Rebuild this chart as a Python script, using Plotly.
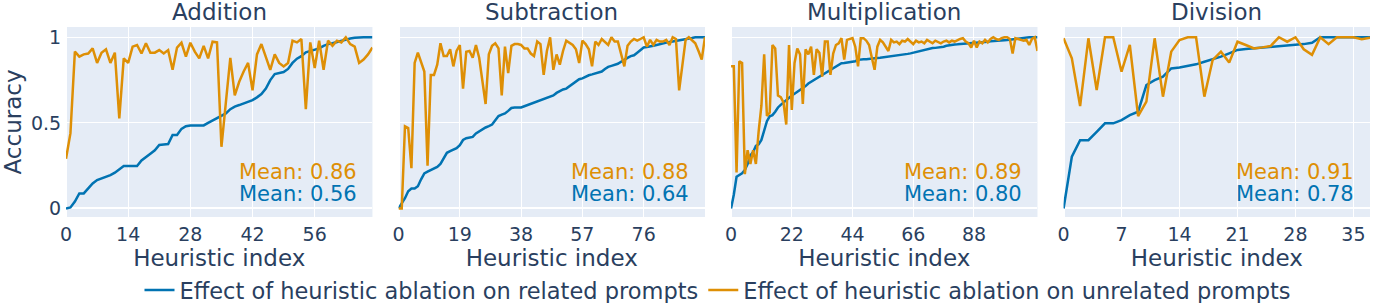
import plotly.graph_objects as go
from plotly.subplots import make_subplots

titles = ["Addition", "Subtraction", "Multiplication", "Division"]

add_related = [0.0, 0.006, 0.04, 0.088, 0.088, 0.12, 0.146, 0.166, 0.175, 0.185,
               0.195, 0.209, 0.23, 0.248, 0.248, 0.248, 0.248, 0.28, 0.302, 0.32,
               0.34, 0.371, 0.374, 0.376, 0.429, 0.429, 0.465, 0.48, 0.485, 0.485,
               0.485, 0.485, 0.5, 0.515, 0.53, 0.545, 0.555, 0.58, 0.595, 0.604,
               0.615, 0.625, 0.633, 0.649, 0.668, 0.70, 0.75, 0.785, 0.793, 0.797,
               0.815, 0.85, 0.875, 0.89, 0.912, 0.92, 0.925, 0.935, 0.95, 0.96,
               0.965, 0.972, 0.98, 0.988, 0.993, 0.997, 1.0, 1.0, 1.0, 1.0]
add_unrelated = [0.29, 0.44, 0.916, 0.887, 0.90, 0.905, 0.935, 0.85, 0.91, 0.93,
                 0.85, 0.91, 0.526, 0.877, 0.85, 0.945, 0.955, 0.905, 0.965, 0.91,
                 0.91, 0.925, 0.905, 0.925, 0.81, 0.94, 0.968, 0.887, 0.968, 0.916,
                 0.877, 0.95, 0.877, 0.974, 0.97, 0.36, 0.62, 0.88, 0.66, 0.74,
                 0.8, 0.85, 0.69, 0.9, 0.96, 0.88, 0.81, 0.9, 0.85, 0.83,
                 0.85, 0.98, 0.97, 0.99, 0.58, 0.97, 0.82, 0.98, 0.81, 0.98,
                 0.95, 0.98, 0.97, 1.0, 0.96, 0.945, 0.85, 0.87, 0.9, 0.94]

sub_related = [0.0, 0.03, 0.06, 0.1, 0.116, 0.116, 0.13, 0.17, 0.205, 0.215,
               0.225, 0.235, 0.243, 0.26, 0.29, 0.325, 0.335, 0.343, 0.352, 0.37,
               0.40, 0.41, 0.415, 0.418, 0.438, 0.45, 0.465, 0.473, 0.481, 0.49,
               0.515, 0.54, 0.548, 0.555, 0.57, 0.587, 0.59, 0.59, 0.59, 0.597,
               0.604, 0.612, 0.62, 0.628, 0.635, 0.638, 0.645, 0.652, 0.66, 0.675,
               0.687, 0.695, 0.70, 0.715, 0.73, 0.74, 0.755, 0.76, 0.77, 0.778,
               0.783, 0.788, 0.792, 0.80, 0.815, 0.827, 0.833, 0.84, 0.845, 0.857,
               0.87, 0.88, 0.89, 0.895, 0.91, 0.925, 0.94, 0.943, 0.945, 0.95,
               0.955, 0.96, 0.964, 0.968, 0.973, 0.975, 0.978, 0.98, 0.984, 0.988,
               0.993, 0.996, 1.0, 1.0, 1.0, 1.0]
sub_unrelated = [0.0, 0.0, 0.48, 0.47, 0.235, 0.85, 0.91, 0.86, 0.80, 0.25,
                 0.78, 0.78, 0.84, 0.965, 0.89, 0.89, 0.93, 0.83, 0.92, 0.955,
                 0.70, 0.915, 0.92, 0.88, 0.955, 0.88, 0.75, 0.61, 0.90, 0.95,
                 0.965, 0.935, 0.66, 0.945, 0.79, 0.95, 0.96, 0.96, 0.955, 0.935,
                 0.935, 0.905, 0.89, 0.975, 0.96, 0.78, 0.92, 1.0, 0.81, 0.90,
                 0.84, 0.92, 0.98, 0.965, 0.955, 0.93, 0.85, 0.98, 0.96, 0.93,
                 0.83, 0.975, 0.955, 0.99, 0.97, 0.955, 1.0, 0.975, 0.975, 0.90,
                 0.83, 0.95, 0.975, 0.99, 0.98, 0.99, 1.0, 0.945, 0.985, 0.955,
                 0.985, 0.975, 0.975, 0.985, 0.955, 1.0, 0.99, 0.69, 0.85, 0.985,
                 1.0, 0.98, 0.965, 0.92, 0.87, 1.0]

mul_related = [0.0, 0.08, 0.185, 0.193, 0.205, 0.225, 0.26, 0.31, 0.33, 0.365,
               0.375, 0.40, 0.46, 0.51, 0.538, 0.545, 0.565, 0.59, 0.605, 0.62,
               0.635, 0.65, 0.66, 0.67, 0.68, 0.69, 0.70, 0.715, 0.73, 0.74,
               0.75, 0.76, 0.77, 0.778, 0.79, 0.80, 0.81, 0.82, 0.828, 0.84,
               0.848, 0.85, 0.852, 0.854, 0.856, 0.86, 0.868, 0.871, 0.871, 0.871,
               0.874, 0.877, 0.878, 0.879, 0.88, 0.882, 0.883, 0.885, 0.887, 0.89,
               0.893, 0.896, 0.898, 0.90, 0.903, 0.906, 0.91, 0.915, 0.92, 0.924,
               0.928, 0.932, 0.935, 0.937, 0.938, 0.94, 0.941, 0.945, 0.95, 0.954,
               0.956, 0.958, 0.959, 0.96, 0.961, 0.962, 0.964, 0.965, 0.967, 0.969,
               0.97, 0.972, 0.973, 0.974, 0.977, 0.979, 0.98, 0.981, 0.982, 0.983,
               0.984, 0.986, 0.989, 0.992, 0.995, 0.997, 0.999, 1.0, 1.0, 1.0,
               1.0, 1.0]
mul_unrelated = [0.83, 0.83, 0.21, 0.86, 0.85, 0.20, 0.34, 0.26, 0.34, 0.26,
                 0.45, 0.6, 0.9, 0.54, 0.56, 0.955, 0.935, 0.66, 0.65, 0.62,
                 0.49, 0.955, 0.575, 0.85, 0.935, 0.90, 0.61, 0.93, 0.90, 0.945,
                 0.78, 0.93, 0.91, 0.77, 0.975, 0.975, 0.78, 0.905, 0.955, 0.965,
                 0.995, 0.87, 0.985, 0.99, 0.995, 0.945, 0.83, 0.995, 0.995, 0.98,
                 0.955, 0.88, 0.81, 0.945, 0.985, 0.97, 0.945, 0.92, 0.985, 0.97,
                 0.975, 0.96, 0.98, 0.975, 0.99, 0.975, 0.96, 0.98, 0.97, 0.975,
                 0.965, 0.985, 0.975, 0.965, 0.98, 0.97, 0.965, 0.975, 0.98, 0.97,
                 0.98, 0.975, 0.985, 0.99, 0.995, 0.975, 0.965, 0.94, 0.98, 0.94,
                 0.975, 0.965, 0.985, 0.97, 0.99, 1.0, 0.99, 0.985, 0.995, 1.0,
                 1.0, 0.99, 0.905, 0.995, 0.99, 0.985, 0.98, 0.985, 0.955, 0.99,
                 1.0, 0.92]

div_related = [0.0, 0.302, 0.399, 0.399, 0.448, 0.497, 0.497, 0.516, 0.545, 0.565,
               0.721, 0.75, 0.77, 0.818, 0.824, 0.832, 0.842, 0.857, 0.871, 0.887,
               0.906, 0.926, 0.931, 0.935, 0.941, 0.945, 0.951, 0.955, 0.959, 0.96,
               0.968, 1.0, 1.0, 1.0, 1.0, 1.0, 1.0, 1.0]
div_unrelated = [0.994, 0.877, 0.598, 0.994, 0.692, 1.0, 1.0, 0.799, 0.955, 0.54,
                 0.624, 0.994, 0.653, 0.916, 0.984, 1.0, 1.0, 0.653, 0.867, 0.916,
                 0.852, 0.974, 0.955, 0.935, 0.941, 0.949, 1.0, 0.974, 1.0, 0.93,
                 0.897, 1.0, 0.96, 1.0, 1.0, 1.0, 0.988, 0.998]

related_series = [add_related, sub_related, mul_related, div_related]
unrelated_series = [add_unrelated, sub_unrelated, mul_unrelated, div_unrelated]
related_means = ["0.56", "0.64", "0.80", "0.78"]
unrelated_means = ["0.86", "0.88", "0.89", "0.91"]
x_tickvals = [[0, 14, 28, 42, 56], [0, 19, 38, 57, 76], [0, 22, 44, 66, 88], [0, 7, 14, 21, 28, 35]]
y_tickvals = [0, 0.5, 1]
y_ticktext = ["0", "0.5", "1"]

related_name = "Effect of heuristic ablation on related prompts"
unrelated_name = "Effect of heuristic ablation on unrelated prompts"

BLUE = "#0173B2"
ORANGE = "#DE8F05"
FONT = "DejaVu Sans"

fig = make_subplots(rows=1, cols=4, shared_yaxes=True, horizontal_spacing=0.02,
                    subplot_titles=titles)

for k in range(4):
    rel = related_series[k]
    unr = unrelated_series[k]
    fig.add_trace(go.Scatter(x=list(range(len(rel))), y=rel, mode="lines", name=related_name,
                             line=dict(color=BLUE, width=2.5),
                             legendgroup="rel", showlegend=(k == 0)), row=1, col=k + 1)
    fig.add_trace(go.Scatter(x=list(range(len(unr))), y=unr, mode="lines", name=unrelated_name,
                             line=dict(color=ORANGE, width=2.5),
                             legendgroup="unr", showlegend=(k == 0)), row=1, col=k + 1)
    fig.update_xaxes(tickvals=x_tickvals[k], range=[0, len(rel) - 1],
                     title_text="Heuristic index", row=1, col=k + 1)
    sfx = "" if k == 0 else str(k + 1)
    fig.add_annotation(x=0.955, y=0.237, xref=f"x{sfx} domain", yref=f"y{sfx} domain",
                       text=f"Mean: {unrelated_means[k]}", showarrow=False,
                       xanchor="right", yanchor="middle", height=20,
                       font=dict(color=ORANGE, size=21, family=FONT))
    fig.add_annotation(x=0.955, y=0.123, xref=f"x{sfx} domain", yref=f"y{sfx} domain",
                       text=f"Mean: {related_means[k]}", showarrow=False,
                       xanchor="right", yanchor="middle", height=20,
                       font=dict(color=BLUE, size=21, family=FONT))

fig.update_xaxes(ticks="outside", ticklen=0, tickcolor="rgba(0,0,0,0)", automargin=False,
                 tickfont=dict(size=19), title_font=dict(size=23), title_standoff=2)
fig.update_yaxes(range=[-0.05, 1.06], tickvals=y_tickvals, ticktext=y_ticktext,
                 ticks="outside", ticklen=0, tickcolor="rgba(0,0,0,0)", automargin=False,
                 tickfont=dict(size=19))
fig.update_yaxes(title_text="Accuracy", title_font=dict(size=23), title_standoff=14, row=1, col=1)

for ann in fig.layout.annotations[:4]:
    ann.font = dict(size=23, family=FONT, color="#2a3f5f")

fig.update_layout(
    template="plotly",
    width=1375, height=303,
    margin=dict(l=66, r=5, t=27, b=86, autoexpand=False),
    font=dict(family=FONT, color="#2a3f5f"),
    legend=dict(orientation="h", x=0.5, xanchor="center", y=-0.386, yanchor="middle",
                font=dict(size=22.5), bgcolor="rgba(0,0,0,0)"),
)

fig.write_html("out.html", config={"displayModeBar": False},
               post_script="document.body.style.margin='0';")
